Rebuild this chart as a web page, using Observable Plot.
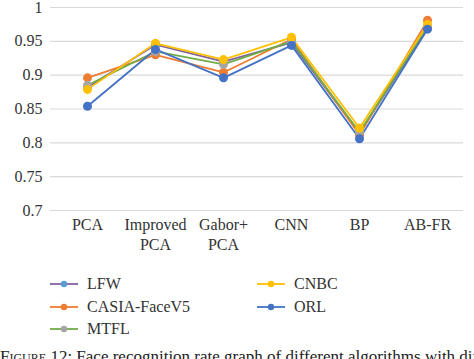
<!DOCTYPE html>
<html>
<head>
<meta charset="utf-8">
<script src="https://cdn.jsdelivr.net/npm/d3@7"></script>
<script src="https://cdn.jsdelivr.net/npm/@observablehq/plot@0.6"></script>
<style>
  html, body { margin: 0; padding: 0; background: #fff; overflow: hidden; }
  body { width: 474px; height: 359px; position: relative; font-family: "Liberation Serif", "DejaVu Serif", serif; }
  #chart { position: absolute; left: 0; top: 0; }
  .leg { position: absolute; display: flex; align-items: center; font-size: 16px; color: #333; }
  .leg svg { margin-right: 9px; }
  #caption { position: absolute; left: 0; top: 347px; font-size: 17px; white-space: nowrap; color: #222; }
  #caption .sc { font-variant: small-caps; }
</style>
</head>
<body>
<div id="chart"></div>
<div id="legend"></div>
<div id="caption"><span class="sc">Figure</span> 12: Face recognition rate graph of different algorithms with different datasets.</div>
<script>
const categories = ["PCA", "Improved\nPCA", "Gabor+\nPCA", "CNN", "BP", "AB-FR"];
const seriesNames = ["LFW", "CASIA-FaceV5", "MTFL", "CNBC", "ORL"];
const LFW   = [0.882, 0.945, 0.920, 0.948, 0.814, 0.970];
const CASIA = [0.896, 0.930, 0.904, 0.953, 0.812, 0.981];
const MTFL  = [0.885, 0.935, 0.916, 0.950, 0.816, 0.972];
const CNBC  = [0.879, 0.947, 0.923, 0.956, 0.822, 0.975];
const ORL   = [0.854, 0.938, 0.896, 0.944, 0.806, 0.968];
const yTicks = [0.7, 0.75, 0.8, 0.85, 0.9, 0.95, 1];

const lineColors = {"LFW": "#8064A2", "CASIA-FaceV5": "#ED7D31", "MTFL": "#70AD47", "CNBC": "#FFC000", "ORL": "#4472C4"};
const dotColors  = {"LFW": "#5B9BD5", "CASIA-FaceV5": "#ED7D31", "MTFL": "#A5A5A5", "CNBC": "#FFC000", "ORL": "#4472C4"};

const valuesBySeries = [LFW, CASIA, MTFL, CNBC, ORL];
const data = [];
seriesNames.forEach((s, i) => {
  categories.forEach((c, j) => data.push({series: s, cat: c, value: valuesBySeries[i][j]}));
});

const marks = [
  Plot.ruleY(yTicks, {stroke: "#d9d9d9", strokeWidth: 1.2})
];
seriesNames.forEach(s => {
  const d = data.filter(r => r.series === s);
  marks.push(Plot.line(d, {x: "cat", y: "value", stroke: lineColors[s], strokeWidth: 1.8}));
});
seriesNames.forEach(s => {
  const d = data.filter(r => r.series === s);
  marks.push(Plot.dot(d, {x: "cat", y: "value", fill: dotColors[s], r: 4.5}));
});

const chart = Plot.plot({
  width: 474,
  height: 258,
  marginLeft: 50,
  marginRight: 11,
  marginTop: 7,
  marginBottom: 48,
  style: {fontFamily: "'Liberation Serif', 'DejaVu Serif', serif", fontSize: "16px", color: "#333", background: "#fff"},
  x: {type: "point", domain: categories, padding: 0.5, label: null},
  y: {domain: [0.7, 1], label: null},
  marks: [
    ...marks,
    Plot.axisY({ticks: yTicks, tickSize: 0, tickPadding: 8, tickFormat: d => String(+d.toFixed(2)), label: null, fontSize: 16}),
    Plot.axisX({tickSize: 0, tickPadding: 5, label: null, fontSize: 16, lineHeight: 1.25})
  ]
});
document.getElementById("chart").appendChild(chart);

// Legend
const legPos = [
  {x: 50, y: 284}, {x: 50, y: 307}, {x: 50, y: 329},
  {x: 257, y: 284}, {x: 257, y: 307}
];
const legend = document.getElementById("legend");
seriesNames.forEach((s, i) => {
  const p = legPos[i];
  const el = document.createElement("div");
  el.className = "leg";
  el.style.left = p.x + "px";
  el.style.top = (p.y - 10) + "px";
  el.style.height = "20px";
  el.innerHTML = `<svg width="28" height="10"><line x1="0" y1="5" x2="28" y2="5" stroke="${lineColors[s]}" stroke-width="1.8"/><circle cx="14" cy="5" r="3.2" fill="${dotColors[s]}"/></svg><span>${s}</span>`;
  legend.appendChild(el);
});
</script>
</body>
</html>
